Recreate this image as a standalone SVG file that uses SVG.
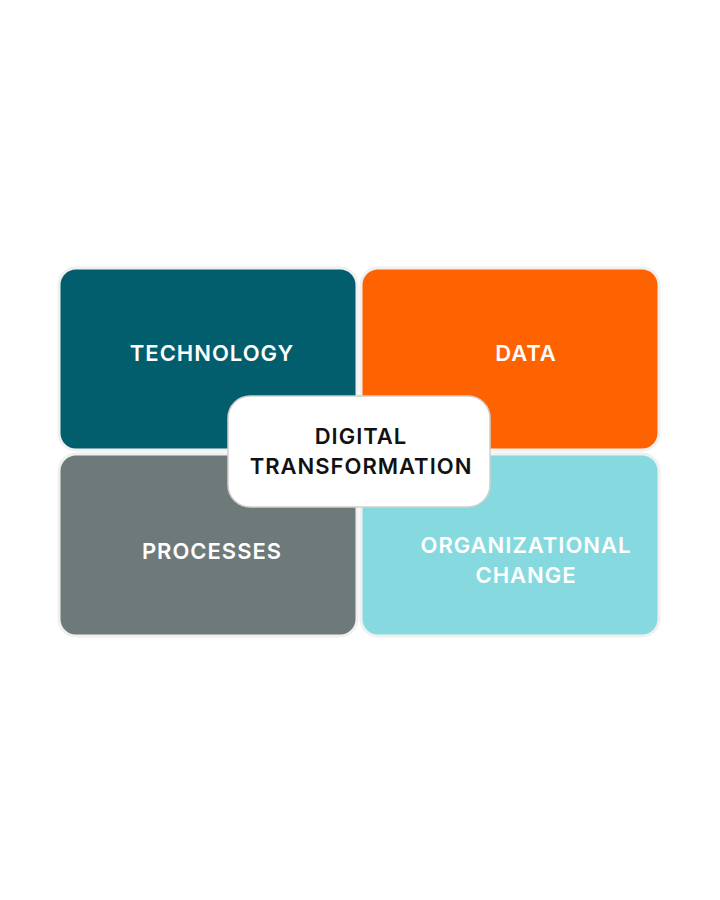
<svg xmlns="http://www.w3.org/2000/svg" width="720" height="900" viewBox="0 0 720 900">
<style>
.q{stroke:#f0f0f0;stroke-width:3}
.t{font-family:Inter,"Open Sans",sans-serif;font-weight:600;font-size:22px;letter-spacing:1px;text-anchor:middle;fill:#ffffff}
.c{font-family:Inter,"Open Sans",sans-serif;font-weight:600;font-size:22px;letter-spacing:1px;text-anchor:middle;fill:#111111}
</style>
<rect width="720" height="900" fill="#ffffff"/>
<g id="technology">
<rect class="q" x="59" y="268" width="298" height="182" rx="17" fill="#025E6D"/>
<text class="t" x="212" y="361">TECHNOLOGY</text>
</g>
<g id="data">
<rect class="q" x="361" y="268" width="298" height="182" rx="17" fill="#FF6200"/>
<text class="t" x="526" y="361">DATA</text>
</g>
<g id="processes">
<rect class="q" x="59" y="454" width="298" height="182" rx="17" fill="#6E7A7A"/>
<text class="t" x="212" y="559">PROCESSES</text>
</g>
<g id="organizational-change">
<rect class="q" x="361" y="454" width="298" height="182" rx="17" fill="#86DADF"/>
<text class="t" x="526" y="553">ORGANIZATIONAL</text>
<text class="t" x="526" y="583">CHANGE</text>
</g>
<g id="connectors"></g>
<g id="digital-transformation">
<rect x="228" y="396" width="262" height="111" rx="22" fill="#ffffff" stroke="#cfcfcf" stroke-width="1.5"/>
<text class="c" x="361" y="444">DIGITAL</text>
<text class="c" x="361" y="474">TRANSFORMATION</text>
</g>
</svg>
